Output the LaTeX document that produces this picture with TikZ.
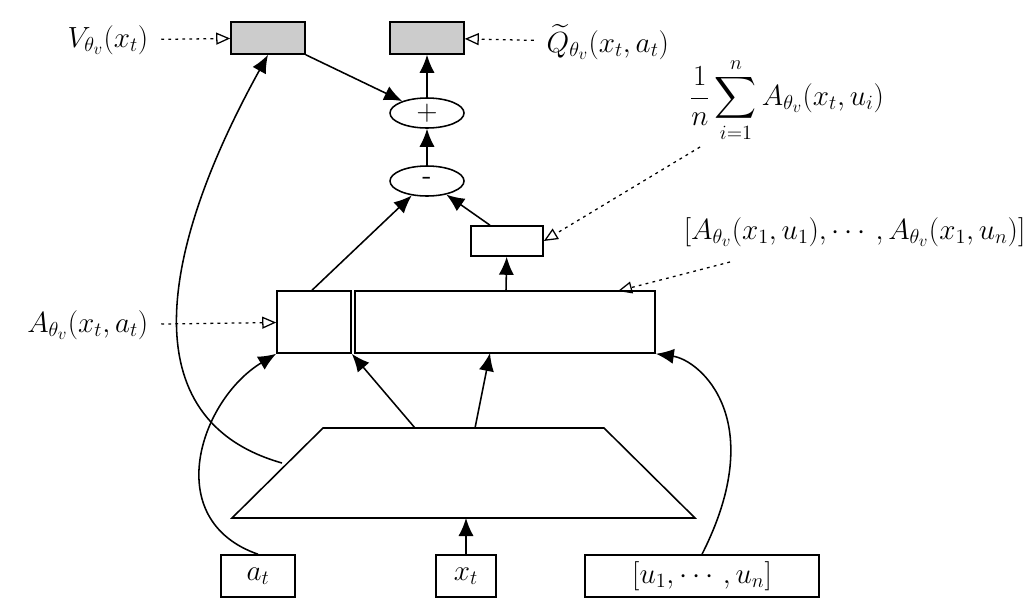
\documentclass[tikz,border=0pt]{standalone}
\usepackage{amsmath}
\usetikzlibrary{arrows.meta,shapes.geometric,positioning}
\tikzset{
  blk/.style={draw, line width=1.1pt, minimum width=1.85cm, minimum height=0.8cm, inner sep=0pt, font=\huge},
  gry/.style={blk, fill=gray!40},
  op/.style={draw, line width=1.1pt, ellipse, minimum width=1.85cm, minimum height=0.75cm, inner sep=0pt, font=\sffamily\huge},
  flow/.style={->, line width=1.1pt, >={Latex[length=4.5mm,width=3.8mm]}},
  hint/.style={dash pattern=on 2pt off 3pt, line width=0.9pt, shorten <=8pt, -{Triangle[open,length=3.5mm,width=3mm]}},
  lbl/.style={font=\huge, inner sep=1pt}
}
\begin{document}
\begin{tikzpicture}[x=0.025cm, y=-0.025cm]
    \useasboundingbox (0,0) rectangle (1029,606);

    % output boxes and operators
    \node[gry] (v) at (268,38) {};
    \node[gry] (q) at (427,38) {};
    \node[op] (plus) at (427,113) {+};
    \node[op] (minus) at (427,181) {-};
    \node[blk, minimum width=1.8cm, minimum height=0.75cm] (avg) at (507,241) {};

    % advantage boxes
    \node[blk, minimum width=1.85cm, minimum height=1.55cm] (aa) at (314,322) {};
    \node[blk, minimum width=7.5cm, minimum height=1.55cm] (au) at (505,322) {};

    % encoder
    \draw[line width=1.1pt] (323,428) -- (604,428) -- (695,518) -- (232,518) -- cycle;
    \coordinate (tl) at (282,463);
    \coordinate (tm) at (415,428);
    \coordinate (tr) at (475,428);
    \coordinate (tb) at (466,518);

    % inputs
    \node[blk, minimum height=1.05cm] (at) at (258,576) {$a_t$};
    \node[blk, minimum width=1.5cm, minimum height=1.05cm] (xt) at (466,576) {$x_t$};
    \node[blk, minimum width=5.85cm, minimum height=1.05cm] (us) at (702,576) {$[u_1,\cdots,u_n]$};

    % labels
    \node[lbl, anchor=east] (lv) at (150,40) {$V_{\theta_v}(x_t)$};
    \node[lbl, anchor=west] (lq) at (545,42) {$\widetilde{Q}_{\theta_v}(x_t,a_t)$};
    \node[lbl, anchor=west] (lavg) at (688,100) {$\displaystyle\frac{1}{n}\sum_{i=1}^{n}A_{\theta_v}(x_t,u_i)$};
    \node[lbl, anchor=east] (lau) at (1027,232) {$[A_{\theta_v}(x_1,u_1),\cdots,A_{\theta_v}(x_1,u_n)]$};
    \node[lbl, anchor=east] (la) at (150,325) {$A_{\theta_v}(x_t,a_t)$};

    \draw[hint] (lv) -- (v);
    \draw[hint] (lq) -- (q);
    \draw[hint, shorten <=0pt] (700,147) -- (avg.east);
    \draw[hint, shorten <=0pt] (730,262) -- (618,291);
    \draw[hint] (la) -- (aa);

    % data flow
    \draw[flow] (xt) -- (tb);
    \draw[flow] (tm) -- (aa.south east);
    \draw[flow] (tr) -- (490,353);
    \draw[flow] (us.north) .. controls (770,420) and (700,360) .. (au.south east);
    \draw[flow] (tl) .. controls (130,420) and (160,250) .. (v.south);
    \draw[flow] (at.north) .. controls (160,520) and (200,400) .. (aa.south west);
    \draw[flow] (aa.north) ++(-2,0) -- (minus);
    \draw[flow] (avg.north) ++(-17,0) -- (minus);
    \draw[flow] (au.north) ++(1,0) -- (avg);
    \draw[flow] (minus) -- (plus);
    \draw[flow] (plus) -- (q);
    \draw[flow] (v.south east) -- (plus);
\end{tikzpicture}
\end{document}
